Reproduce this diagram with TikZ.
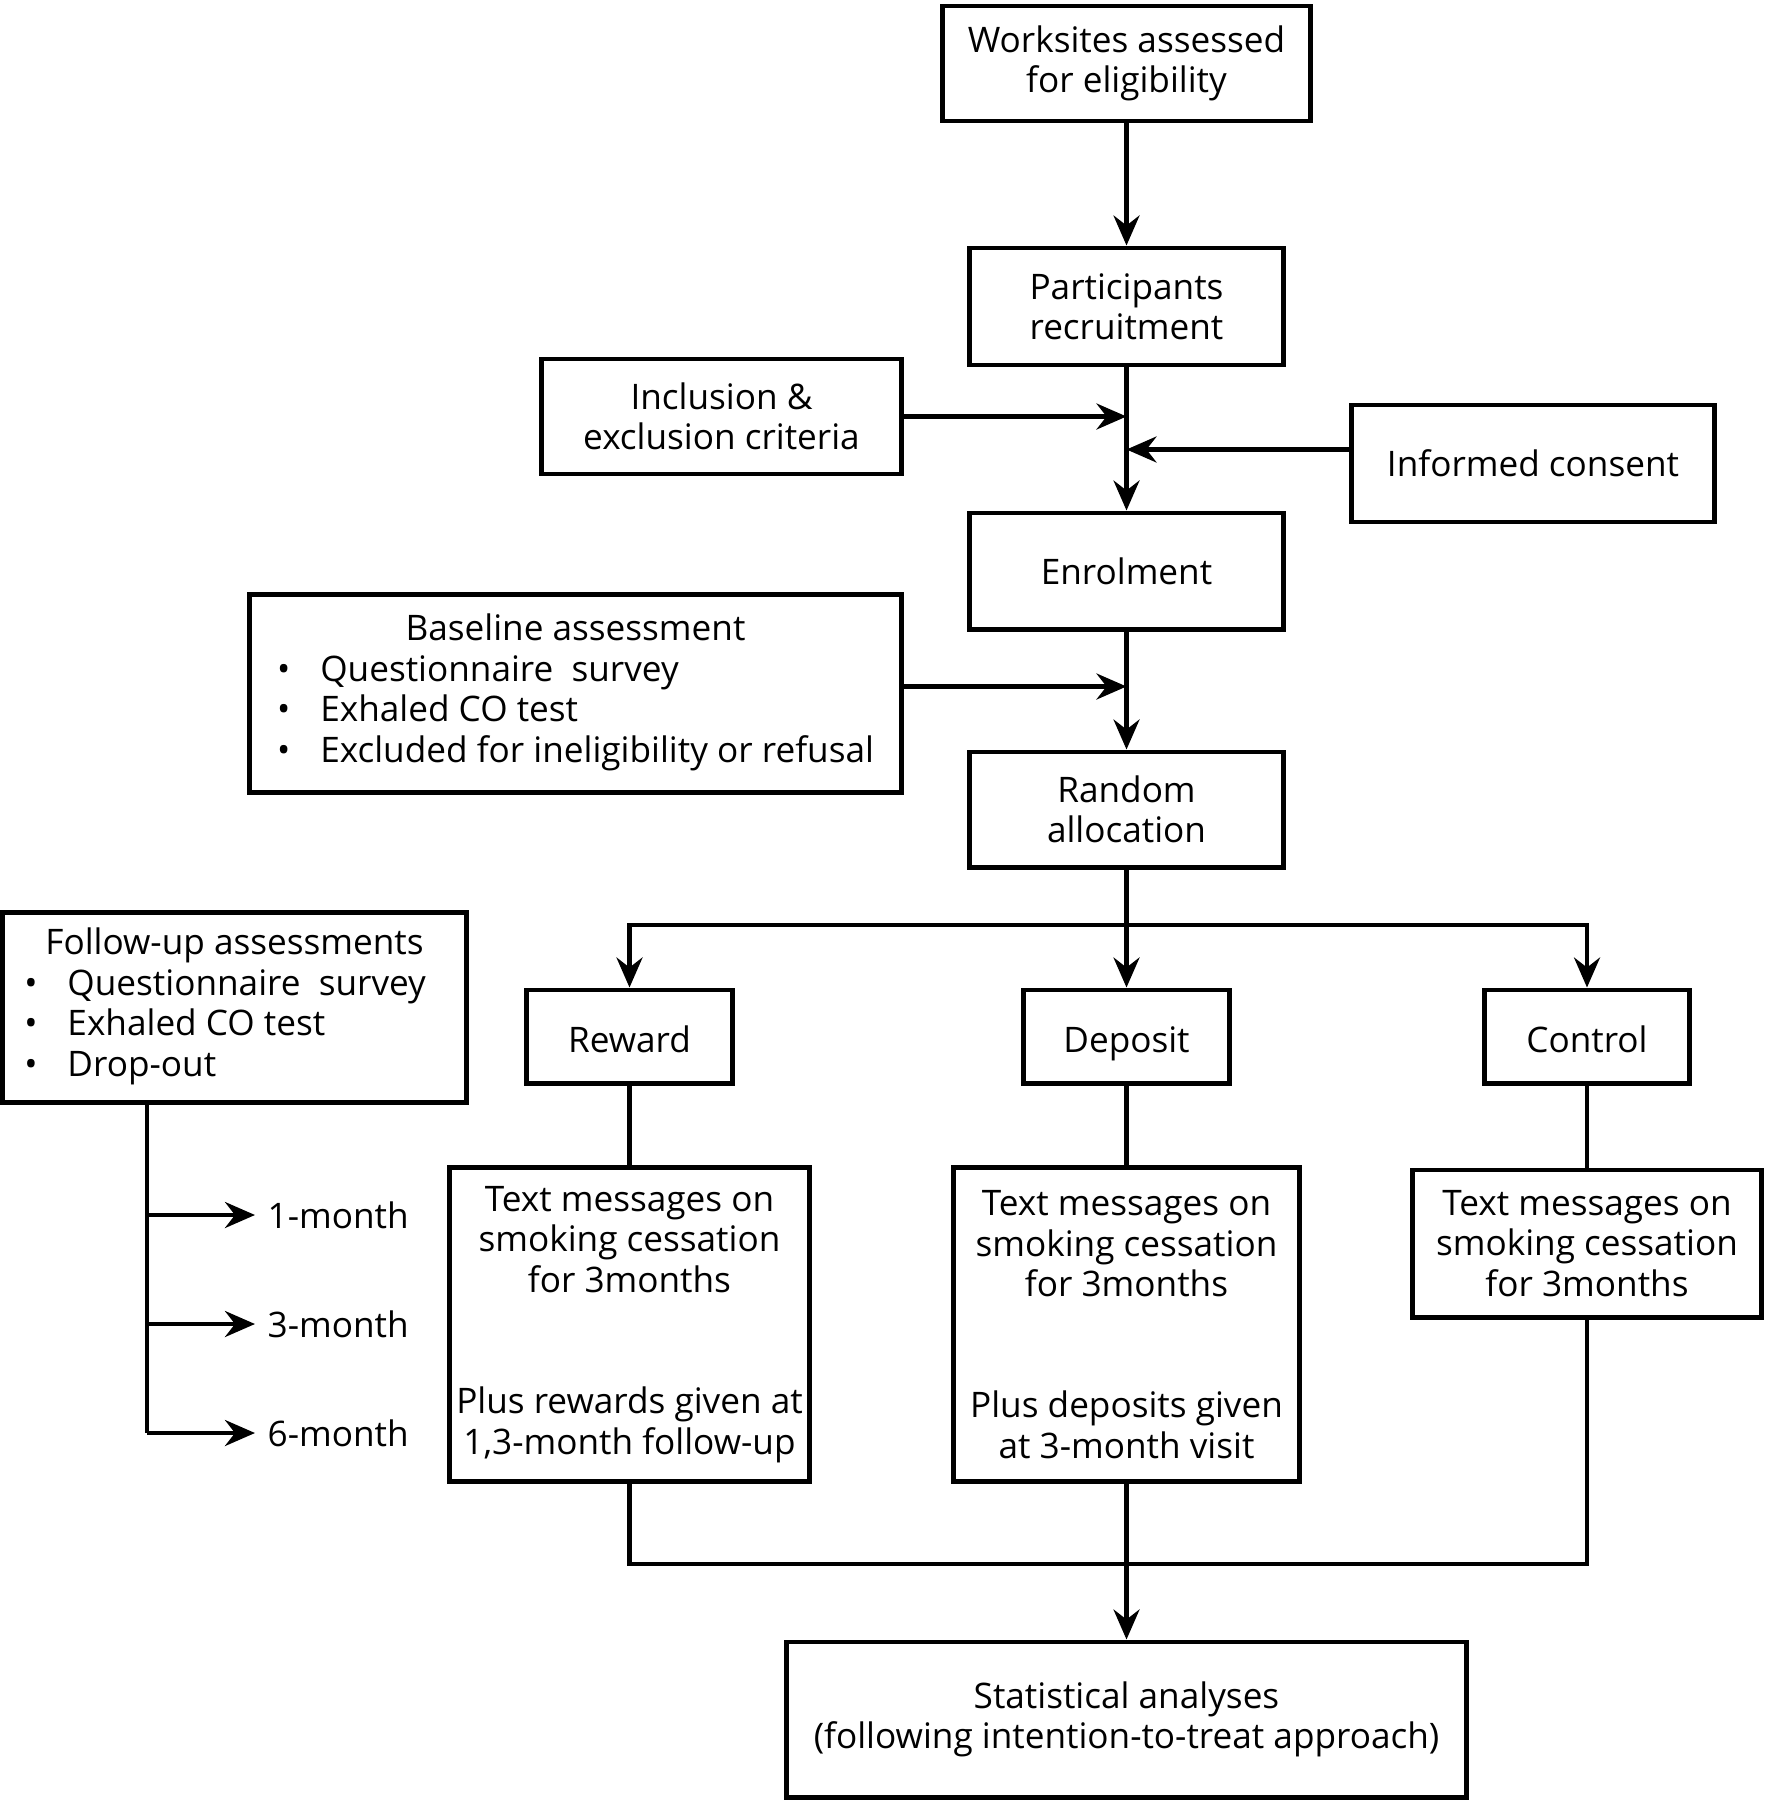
\documentclass[tikz,border=0pt]{standalone}
\usepackage{fontspec}
\setmainfont{Open Sans}
\usetikzlibrary{arrows.meta}
\begin{document}
\begin{tikzpicture}[
  x=0.01cm, y=-0.01cm,
  box/.style={rectangle, draw, line width=1.4pt, align=center, inner sep=2pt},
  armbox/.style={box, minimum width=2.05cm, minimum height=0.93cm, text height=2.2ex, text depth=0.5ex},
  arr/.style={draw, line width=1.2pt, -{Stealth[length=3mm, width=2.6mm, inset=1mm]}},
  line/.style={draw, line width=1.2pt},
  every node/.style={font=\fontsize{10}{11.5}\selectfont}
]
\useasboundingbox (0,0) rectangle (1768,1800);
\node[box, minimum width=3.68cm, minimum height=1.15cm] (work) at (1126.5,63.5) {Worksites assessed\\for eligibility};
\node[box, minimum width=3.13cm, minimum height=1.17cm] (recruit) at (1126.5,306.5) {Participants\\recruitment};
\node[box, minimum width=3.59cm, minimum height=1.15cm] (incl) at (721.5,416.5) {Inclusion \&\\exclusion criteria};
\node[box, minimum width=3.62cm, minimum height=1.17cm] (consent) at (1533,463.5) {Informed consent};
\node[box, minimum width=3.13cm, minimum height=1.16cm] (enrol) at (1126.5,571) {Enrolment};
\node[box, minimum width=6.51cm, minimum height=1.97cm] (base) at (575.5,693.5) {\begin{tabular}{@{}l@{\hspace{0.3cm}}l@{}}
  \multicolumn{2}{c}{Baseline assessment}\\
  \textbullet & Questionnaire\ \ survey\\
  \textbullet & Exhaled CO test\\
  \textbullet & Excluded for ineligibility or refusal
\end{tabular}};
\node[box, minimum width=3.13cm, minimum height=1.15cm] (random) at (1126.5,809.5) {Random\\allocation};
\node[box, minimum width=4.63cm, minimum height=1.89cm] (follow) at (234.5,1007.5) {\begin{tabular}{@{}l@{\hspace{0.3cm}}l@{}}
  \multicolumn{2}{c}{Follow-up assessments}\\
  \textbullet & Questionnaire\ \ survey\\
  \textbullet & Exhaled CO test\\
  \textbullet & Drop-out
\end{tabular}};
\node[armbox] (reward) at (629.5,1036.5) {Reward};
\node[armbox] (deposit) at (1126.5,1036.5) {Deposit};
\node[armbox] (control) at (1587,1036.5) {Control};
\node[box, minimum width=3.59cm, minimum height=3.13cm] (txtR) at (629.5,1324.5) {Text messages on\\smoking cessation\\for 3months\\[23pt]Plus rewards given at\\1,3-month follow-up};
\node[box, minimum width=3.45cm, minimum height=3.13cm] (txtD) at (1126.5,1324.5) {Text messages on\\smoking cessation\\for 3months\\[23pt]Plus deposits given\\at 3-month visit};
\node[box, minimum width=3.48cm, minimum height=1.47cm] (txtC) at (1587,1243.5) {Text messages on\\smoking cessation\\for 3months};
\node[box, minimum width=6.79cm, minimum height=1.55cm] (stat) at (1126.5,1719.5) {Statistical analyses\\(following intention-to-treat approach)};
\node[anchor=west, inner sep=0.12cm] (m1) at (255,1215) {1-month};
\node[anchor=west, inner sep=0.12cm] (m3) at (255,1324) {3-month};
\node[anchor=west, inner sep=0.12cm] (m6) at (255,1433) {6-month};
\coordinate (split) at (1126.5,925);
\coordinate (join) at (1126.5,1564);
\coordinate (fbot) at (147,1433);

\draw[arr] (work) -- (recruit);
\draw[arr] (recruit) -- (enrol);
\draw[arr] (incl.east) -- (incl.east -| recruit.south);
\draw[arr] ([yshift=0.14cm]consent.west) -- ([yshift=0.14cm]consent.west -| recruit.south);
\draw[arr] (enrol) -- (random);
\draw[arr] ([yshift=0.07cm]base.east) -- ([yshift=0.07cm]base.east -| enrol.south);
\draw[arr] (random) -- (deposit);
\draw[arr] (split) -| (reward);
\draw[arr] (split) -| (control);
\draw[line] (reward) -- (txtR);
\draw[line] (deposit) -- (txtD);
\draw[line] (control) -- (txtC);
\draw[line] (txtR.south) |- (join) -| (txtC.south);
\draw[arr] (txtD) -- (stat);
\draw[line] (follow.south -| fbot) -- (fbot);
\draw[arr] (fbot |- m1) -- (m1.west);
\draw[arr] (fbot |- m3) -- (m3.west);
\draw[arr] (fbot) -- (m6.west);
\end{tikzpicture}
\end{document}
